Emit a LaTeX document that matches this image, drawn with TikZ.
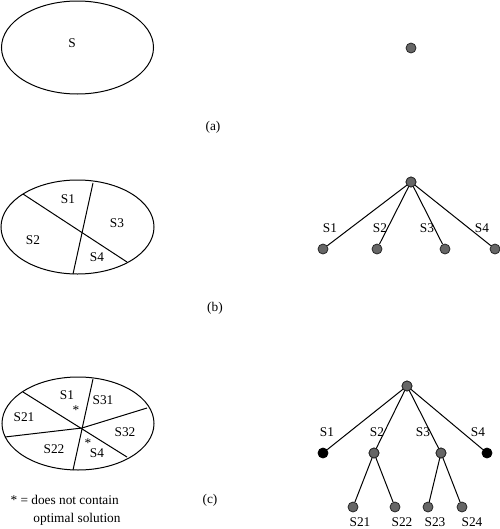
\documentclass[tikz,border=0pt]{standalone}
\usepackage{fontspec}
\setmainfont{Liberation Serif}
\begin{document}
\begin{tikzpicture}[x=0.75pt,y=-0.75pt,line width=0.75pt,
  lbl/.style={font=\fontsize{10}{12}\selectfont,inner sep=0pt},
  gdot/.style={circle,draw=black!85,fill=black!60,line width=0.6pt,minimum size=7.5pt,inner sep=0pt},
  bdot/.style={circle,draw=black,fill=black,line width=0.6pt,minimum size=7.5pt,inner sep=0pt},
  chord/.style={line width=0.75pt}]
\useasboundingbox (0,0) rectangle (500,529);

% ---------- (a)
\draw (77.5,47.5) ellipse [x radius=76,y radius=46.5];
\node[lbl] (sa) at (72,43) {S};
\node[gdot] (ra) at (411,48) {};
\node[lbl] (capa) at (213,127) {(a)};

% ---------- (b)
\draw (77.5,227) ellipse [x radius=76.5,y radius=47];
\coordinate (b1) at (23,194);
\coordinate (b2) at (127,262);
\coordinate (b3) at (93,183);
\coordinate (b4) at (73,274);
\draw[chord] (b1) -- (b2);
\draw[chord] (b3) -- (b4);
\node[lbl] (bs1) at (68,199) {S1};
\node[lbl] (bs3) at (117,223) {S3};
\node[lbl] (bs2) at (33,240) {S2};
\node[lbl] (bs4) at (97,257) {S4};
\node[lbl] (capb) at (215,308) {(b)};

\node[gdot] (rb) at (411,182) {};
\node[gdot] (lb1) at (323,249) {};
\node[gdot] (lb2) at (377,249) {};
\node[gdot] (lb3) at (445,249) {};
\node[gdot] (lb4) at (495,249) {};
\draw (rb.center) -- (lb1);
\draw (rb.center) -- (lb2);
\draw (rb.center) -- (lb3);
\draw (rb.center) -- (lb4);
\node[gdot] at (rb) {};
\node[lbl] (tb1) at (330,228) {S1};
\node[lbl] (tb2) at (380,228) {S2};
\node[lbl] (tb3) at (427,228) {S3};
\node[lbl] (tb4) at (482,228) {S4};

% ---------- (c)
\draw (78,423.5) ellipse [x radius=76,y radius=46.5];
\coordinate (cc) at (82,428);
\coordinate (c1) at (23,392);
\coordinate (c2) at (127,457);
\coordinate (c3) at (93,379);
\coordinate (c4) at (73,470);
\coordinate (c5) at (5,437);
\coordinate (c6) at (147,408);
\draw[chord] (c1) -- (c2);
\draw[chord] (c3) -- (c4);
\draw[chord] (c5) -- (cc) -- (c6);
\node[lbl] (cs1) at (67,395) {S1};
\node[lbl] (cst1) at (76,410) {*};
\node[lbl] (cs31) at (103,400) {S31};
\node[lbl] (cs21) at (24,417) {S21};
\node[lbl] (cs32) at (125,432) {S32};
\node[lbl] (cs22) at (54,449) {S22};
\node[lbl] (cst2) at (88,443) {*};
\node[lbl] (cs4) at (97,453) {S4};
\node[lbl,anchor=west] (leg1) at (10,500) {* = does not contain};
\node[lbl,anchor=west] (leg2) at (33,519) {optimal solution};
\node[lbl] (capc) at (210,500) {(c)};

\node[gdot] (rc) at (407,386) {};
\node[bdot] (c1a) at (323,453) {};
\node[gdot] (c1b) at (374,453) {};
\node[gdot] (c1c) at (441,453) {};
\node[bdot] (c1d) at (487,453) {};
\node[gdot] (c2a) at (353,507) {};
\node[gdot] (c2b) at (395,507) {};
\node[gdot] (c2c) at (428,507) {};
\node[gdot] (c2d) at (462,507) {};
\draw (rc.center) -- (c1a);
\draw (rc.center) -- (c1b.center);
\draw (rc.center) -- (c1c.center);
\draw (rc.center) -- (c1d);
\draw (c1b.center) -- (c2a);
\draw (c1b.center) -- (c2b);
\draw (c1c.center) -- (c2c);
\draw (c1c.center) -- (c2d);
\node[gdot] at (rc) {};
\node[gdot] at (c1b) {};
\node[gdot] at (c1c) {};
\node[lbl] (tc1) at (327,432) {S1};
\node[lbl] (tc2) at (377,432) {S2};
\node[lbl] (tc3) at (423,432) {S3};
\node[lbl] (tc4) at (478,432) {S4};
\node[lbl] (tc21) at (360,522) {S21};
\node[lbl] (tc22) at (402,522) {S22};
\node[lbl] (tc23) at (435,522) {S23};
\node[lbl] (tc24) at (472,522) {S24};
\end{tikzpicture}
\end{document}
